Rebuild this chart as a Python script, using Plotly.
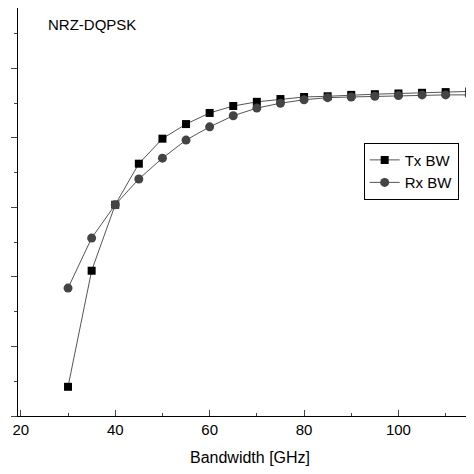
import plotly.graph_objects as go

# bandwidth sweep (GHz)
bw = [30, 35, 40, 45, 50, 55, 60, 65, 70, 75, 80, 85, 90, 95, 100, 105, 110, 115]
# values (y axis labels are cropped in the original)
tx_bw = [0.42, 2.09, 3.04, 3.63, 3.99, 4.20, 4.36, 4.46, 4.52, 4.56, 4.59, 4.60,
         4.62, 4.63, 4.64, 4.65, 4.66, 4.67]
rx_bw = [1.84, 2.56, 3.04, 3.41, 3.71, 3.97, 4.16, 4.32, 4.43, 4.50, 4.55, 4.58,
         4.59, 4.60, 4.61, 4.62, 4.62, 4.62]

fig = go.Figure()
fig.add_trace(go.Scatter(x=bw, y=tx_bw, name="Tx BW", mode="lines+markers",
                         line=dict(color="#555555", width=1),
                         marker=dict(symbol="square", size=8, color="black")))
fig.add_trace(go.Scatter(x=bw, y=rx_bw, name="Rx BW", mode="lines+markers",
                         line=dict(color="#555555", width=1),
                         marker=dict(symbol="circle", size=9, color="#444444")))

fig.update_layout(
    width=474, height=474,
    margin=dict(l=10, r=0, t=0, b=66, autoexpand=False),
    plot_bgcolor="white", paper_bgcolor="white",
    font=dict(family="Liberation Sans, Arial", size=15, color="black"),
    showlegend=True,
    legend=dict(x=0.745, y=0.67, xanchor="left", yanchor="top",
                bordercolor="black", borderwidth=1, bgcolor="white",
                font=dict(size=15)),
    annotations=[dict(text="NRZ-DQPSK", x=0.06, y=0.985, xref="paper", yref="paper",
                      xanchor="left", yanchor="top", showarrow=False,
                      font=dict(size=15))],
)
fig.update_xaxes(range=[19.4, 117.7], tickvals=[20, 40, 60, 80, 100],
                 ticks="inside", ticklen=6, showline=True, linecolor="black",
                 linewidth=1, showgrid=False, zeroline=False,
                 minor=dict(dtick=10, ticks="inside", ticklen=3),
                 title=dict(text="Bandwidth [GHz]", font=dict(size=16), standoff=14))
fig.update_yaxes(range=[0, 5.87], dtick=1, ticks="outside", ticklen=6,
                 showticklabels=False, showline=True, linecolor="black",
                 linewidth=1, showgrid=False, zeroline=False,
                 minor=dict(dtick=0.5, ticks="outside", ticklen=3))

fig.write_html("out.html")
